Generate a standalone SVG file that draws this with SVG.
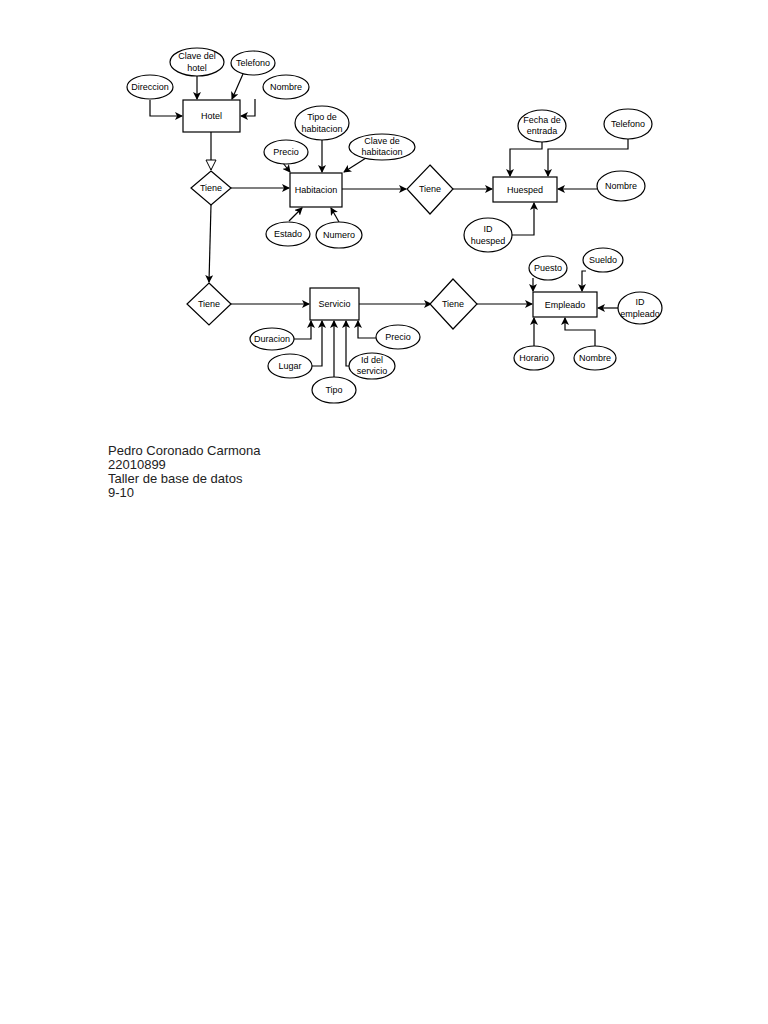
<svg xmlns="http://www.w3.org/2000/svg" width="768" height="1024" viewBox="0 0 768 1024">
<style>
.s{fill:#fff;stroke:#000;stroke-width:1.2}
.l{fill:none;stroke:#000;stroke-width:1.2}
text{font-family:"Liberation Sans",Arial,sans-serif;font-size:9px;text-anchor:middle;dominant-baseline:central;fill:#000}
.n{font-size:13px;text-anchor:start;dominant-baseline:auto;fill:#222}
</style>
<defs>
<marker id="a" markerWidth="8" markerHeight="8" refX="7" refY="4" orient="auto" markerUnits="userSpaceOnUse"><path d="M0,0 L8,4 L0,8 L2,4 Z" fill="#000"/></marker>
<marker id="o" markerWidth="12" markerHeight="12" refX="11" refY="6" orient="auto" markerUnits="userSpaceOnUse"><path d="M1,1 L11,6 L1,11 Z" fill="#fff" stroke="#000"/></marker>
</defs>
<rect width="768" height="1024" fill="#fff"/>
<g id="connectors">
<path class="l" d="M150,100 V116 H182" marker-end="url(#a)"/>
<path class="l" d="M197,76 V99" marker-end="url(#a)"/>
<path class="l" d="M243,74 L232,99" marker-end="url(#a)"/>
<path class="l" d="M255,99 V116 H241" marker-end="url(#a)"/>
<path class="l" d="M211,132 V170" marker-end="url(#o)"/>
<path class="l" d="M231,188 H289" marker-end="url(#a)"/>
<path class="l" d="M322,140 V172" marker-end="url(#a)"/>
<path class="l" d="M283,163 L290,172" marker-end="url(#a)"/>
<path class="l" d="M366,158 L344,172" marker-end="url(#a)"/>
<path class="l" d="M289,221 L302,208" marker-end="url(#a)"/>
<path class="l" d="M339,222 L331,208" marker-end="url(#a)"/>
<path class="l" d="M211,205 L209,282" marker-end="url(#a)"/>
<path class="l" d="M342,189 H406" marker-end="url(#a)"/>
<path class="l" d="M453,189 H492" marker-end="url(#a)"/>
<path class="l" d="M542,142 V149 H510 V176" marker-end="url(#a)"/>
<path class="l" d="M628,139 V149 H548 V176" marker-end="url(#a)"/>
<path class="l" d="M597,189 H558" marker-end="url(#a)"/>
<path class="l" d="M512,235 H534 V203" marker-end="url(#a)"/>
<path class="l" d="M231,304 H309" marker-end="url(#a)"/>
<path class="l" d="M294,339 H311 V321" marker-end="url(#a)"/>
<path class="l" d="M312,366 H322 V321" marker-end="url(#a)"/>
<path class="l" d="M334,377 V321" marker-end="url(#a)"/>
<path class="l" d="M349,366 H346 V321" marker-end="url(#a)"/>
<path class="l" d="M376,338 H358 V321" marker-end="url(#a)"/>
<path class="l" d="M359,304 H431" marker-end="url(#a)"/>
<path class="l" d="M477,304 H532" marker-end="url(#a)"/>
<path class="l" d="M533,278 V291" marker-end="url(#a)"/>
<path class="l" d="M586,271 H582 V291" marker-end="url(#a)"/>
<path class="l" d="M618,308 H598" marker-end="url(#a)"/>
<path class="l" d="M534,346 V318" marker-end="url(#a)"/>
<path class="l" d="M595,346 V330 H565 V318" marker-end="url(#a)"/>
</g>
<g id="hotel"><rect class="s" x="183" y="100" width="57" height="32"/><text x="211.5" y="116">Hotel</text></g>
<g id="clave-hotel"><ellipse class="s" cx="197" cy="62" rx="27" ry="14"/><text x="197" y="56">Clave del</text><text x="197" y="68">hotel</text></g>
<g id="telefono-hotel"><ellipse class="s" cx="253" cy="63" rx="22" ry="12"/><text x="253" y="63">Telefono</text></g>
<g id="direccion"><ellipse class="s" cx="150" cy="87" rx="23" ry="12"/><text x="150" y="87">Direccion</text></g>
<g id="nombre-hotel"><ellipse class="s" cx="286" cy="87" rx="23" ry="12"/><text x="286" y="87">Nombre</text></g>
<g id="tiene1"><polygon class="s" points="211,171 231,188 211,205 191,188"/><text x="211" y="188">Tiene</text></g>
<g id="habitacion"><rect class="s" x="290" y="173" width="52" height="34"/><text x="316" y="190">Habitacion</text></g>
<g id="tipo-hab"><ellipse class="s" cx="322" cy="123" rx="27" ry="17"/><text x="322" y="117">Tipo de</text><text x="322" y="129">habitacion</text></g>
<g id="precio-hab"><ellipse class="s" cx="286" cy="152" rx="22" ry="12"/><text x="286" y="152">Precio</text></g>
<g id="clave-hab"><ellipse class="s" cx="382" cy="147" rx="33" ry="13"/><text x="382" y="141">Clave de</text><text x="382" y="152">habitacion</text></g>
<g id="estado"><ellipse class="s" cx="288" cy="234" rx="22" ry="12"/><text x="288" y="234">Estado</text></g>
<g id="numero"><ellipse class="s" cx="339" cy="235" rx="23" ry="13"/><text x="339" y="235">Numero</text></g>
<g id="tiene2"><polygon class="s" points="430,165 453,189 430,214 407,189"/><text x="430" y="189">Tiene</text></g>
<g id="huesped"><rect class="s" x="493" y="177" width="64" height="25"/><text x="525" y="189.5">Huesped</text></g>
<g id="fecha"><ellipse class="s" cx="542" cy="126" rx="24" ry="16"/><text x="542" y="120">Fecha de</text><text x="542" y="131">entrada</text></g>
<g id="telefono-h"><ellipse class="s" cx="628" cy="124" rx="24" ry="15"/><text x="628" y="124">Telefono</text></g>
<g id="nombre-h"><ellipse class="s" cx="621" cy="186" rx="24" ry="15"/><text x="621" y="186">Nombre</text></g>
<g id="id-huesped"><ellipse class="s" cx="488" cy="235" rx="24" ry="17"/><text x="488" y="229">ID</text><text x="488" y="241">huesped</text></g>
<g id="tiene3"><polygon class="s" points="209,283 231,304 209,325 187,304"/><text x="209" y="304">Tiene</text></g>
<g id="servicio"><rect class="s" x="310" y="288" width="49" height="32"/><text x="334.5" y="304">Servicio</text></g>
<g id="duracion"><ellipse class="s" cx="272" cy="339" rx="22" ry="11"/><text x="272" y="339">Duracion</text></g>
<g id="lugar"><ellipse class="s" cx="290" cy="366" rx="22" ry="12"/><text x="290" y="366">Lugar</text></g>
<g id="tipo"><ellipse class="s" cx="334" cy="390" rx="22" ry="13"/><text x="334" y="390">Tipo</text></g>
<g id="id-servicio"><ellipse class="s" cx="372" cy="366" rx="23" ry="13"/><text x="372" y="360">Id del</text><text x="372" y="371">servicio</text></g>
<g id="precio-s"><ellipse class="s" cx="398" cy="337" rx="22" ry="12"/><text x="398" y="337">Precio</text></g>
<g id="tiene4"><polygon class="s" points="453,279 477,304 453,329 430,304"/><text x="453" y="304">Tiene</text></g>
<g id="empleado"><rect class="s" x="533" y="292" width="64" height="25"/><text x="565" y="304.5">Empleado</text></g>
<g id="puesto"><ellipse class="s" cx="548" cy="268" rx="19" ry="12"/><text x="548" y="268">Puesto</text></g>
<g id="sueldo"><ellipse class="s" cx="603" cy="260" rx="20" ry="12"/><text x="603" y="260">Sueldo</text></g>
<g id="id-empleado"><ellipse class="s" cx="640" cy="308" rx="22" ry="16"/><text x="640" y="302">ID</text><text x="640" y="314">empleado</text></g>
<g id="horario"><ellipse class="s" cx="534" cy="358" rx="20" ry="12"/><text x="534" y="358">Horario</text></g>
<g id="nombre-e"><ellipse class="s" cx="595" cy="358" rx="21" ry="12"/><text x="595" y="358">Nombre</text></g>
<text class="n" x="108" y="455">Pedro Coronado Carmona</text>
<text class="n" x="108" y="469">22010899</text>
<text class="n" x="108" y="483">Taller de base de datos</text>
<text class="n" x="108" y="497">9-10</text>
</svg>
